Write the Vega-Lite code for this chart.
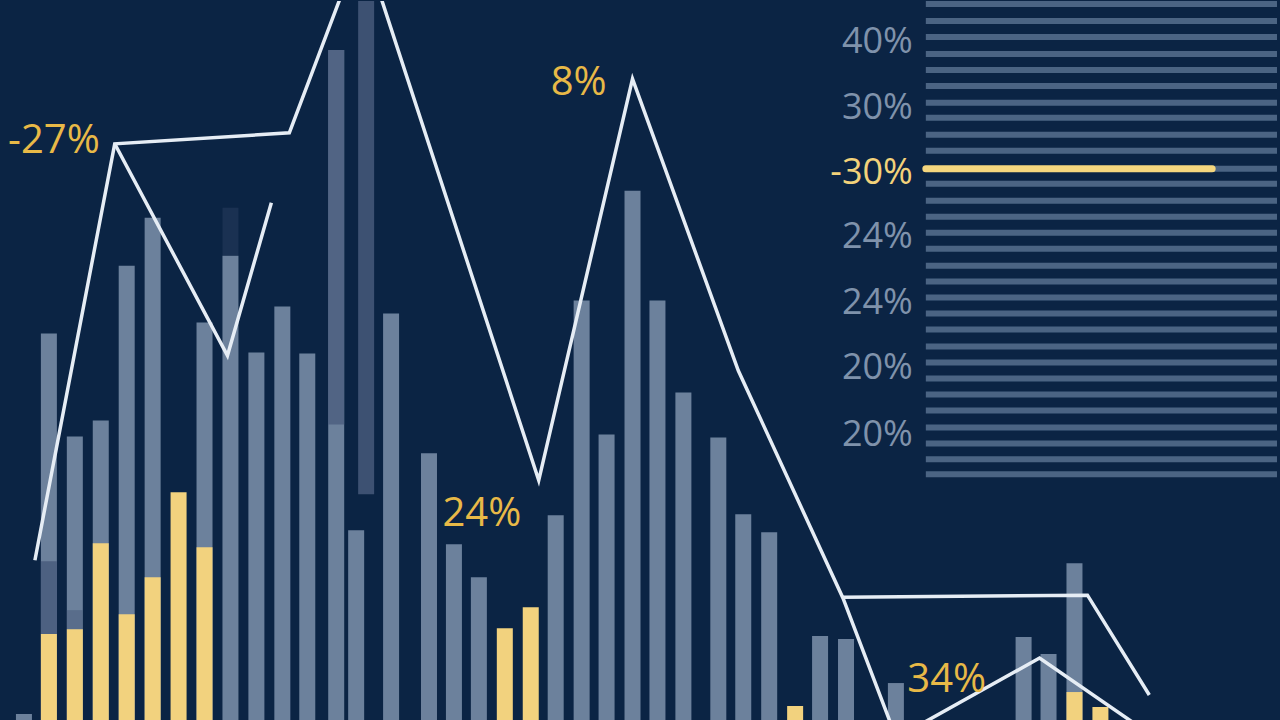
{
  "$schema": "https://vega.github.io/schema/vega-lite/v6.json",
  "autosize": {"type": "fit", "contains": "padding"},
  "width": 1280,
  "height": 720,
  "padding": 0,
  "background": "#0b2444",
  "config": {"view": {"stroke": null}, "axis": {"disable": true}},
  "datasets": {
    "stripes": [
      {"level": 717, "from": 928, "to": 1280}, {"level": 700, "from": 928, "to": 1280}, {"level": 684, "from": 928, "to": 1280},
      {"level": 667, "from": 928, "to": 1280}, {"level": 651, "from": 928, "to": 1280}, {"level": 635, "from": 928, "to": 1280},
      {"level": 618, "from": 928, "to": 1280}, {"level": 603, "from": 928, "to": 1280}, {"level": 586, "from": 928, "to": 1280},
      {"level": 570, "from": 928, "to": 1280}, {"level": 552, "from": 1215, "to": 1280}, {"level": 537, "from": 928, "to": 1280},
      {"level": 520, "from": 928, "to": 1280}, {"level": 504, "from": 928, "to": 1280}, {"level": 488, "from": 928, "to": 1280},
      {"level": 472, "from": 928, "to": 1280}, {"level": 455, "from": 928, "to": 1280}, {"level": 439, "from": 928, "to": 1280},
      {"level": 423, "from": 928, "to": 1280}, {"level": 407, "from": 928, "to": 1280}, {"level": 391, "from": 928, "to": 1280},
      {"level": 374, "from": 928, "to": 1280}, {"level": 358, "from": 928, "to": 1280}, {"level": 342, "from": 928, "to": 1280},
      {"level": 326, "from": 928, "to": 1280}, {"level": 310, "from": 928, "to": 1280}, {"level": 293, "from": 928, "to": 1280},
      {"level": 277, "from": 928, "to": 1280}, {"level": 261, "from": 928, "to": 1280}, {"level": 246, "from": 928, "to": 1280}
    ],
    "highlight": [{"level": 552, "from": 928, "to": 1215}],
    "grey": [
      {"pos": 24, "lo": 0, "hi": 6}, {"pos": 49, "lo": 0, "hi": 387}, {"pos": 75, "lo": 0, "hi": 284},
      {"pos": 101, "lo": 0, "hi": 300}, {"pos": 127, "lo": 0, "hi": 455}, {"pos": 153, "lo": 0, "hi": 503},
      {"pos": 205, "lo": 0, "hi": 398}, {"pos": 231, "lo": 0, "hi": 465}, {"pos": 257, "lo": 0, "hi": 368},
      {"pos": 283, "lo": 0, "hi": 414}, {"pos": 308, "lo": 0, "hi": 367}, {"pos": 337, "lo": 0, "hi": 671},
      {"pos": 357, "lo": 0, "hi": 190}, {"pos": 392, "lo": 0, "hi": 407}, {"pos": 430, "lo": 0, "hi": 267},
      {"pos": 455, "lo": 0, "hi": 176}, {"pos": 480, "lo": 0, "hi": 143}, {"pos": 557, "lo": 0, "hi": 205},
      {"pos": 583, "lo": 0, "hi": 420}, {"pos": 608, "lo": 0, "hi": 286}, {"pos": 634, "lo": 0, "hi": 530},
      {"pos": 659, "lo": 0, "hi": 420}, {"pos": 685, "lo": 0, "hi": 328}, {"pos": 720, "lo": 0, "hi": 283},
      {"pos": 745, "lo": 0, "hi": 206}, {"pos": 771, "lo": 0, "hi": 188}, {"pos": 822, "lo": 0, "hi": 84},
      {"pos": 848, "lo": 0, "hi": 81}, {"pos": 898, "lo": 0, "hi": 37}, {"pos": 1026, "lo": 0, "hi": 83},
      {"pos": 1051, "lo": 0, "hi": 66}, {"pos": 1077, "lo": 0, "hi": 157}
    ],
    "dark": [
      {"pos": 49, "lo": 86, "hi": 159, "shade": 0.8}, {"pos": 75, "lo": 91, "hi": 110, "shade": 0.5},
      {"pos": 337, "lo": 296, "hi": 671, "shade": 0.7}, {"pos": 367, "lo": 226, "hi": 722, "shade": 0.85},
      {"pos": 231, "lo": 465, "hi": 513, "shade": 0.25}
    ],
    "gold": [
      {"pos": 49, "hi": 86}, {"pos": 75, "hi": 91}, {"pos": 101, "hi": 177}, {"pos": 127, "hi": 106},
      {"pos": 153, "hi": 143}, {"pos": 179, "hi": 228}, {"pos": 205, "hi": 173}, {"pos": 506, "hi": 92},
      {"pos": 532, "hi": 113}, {"pos": 797, "hi": 14}, {"pos": 1077, "hi": 28}, {"pos": 1103, "hi": 13}
    ],
    "lines": [
      {"series": "a", "i": 1, "pos": 35, "val": 160}, {"series": "a", "i": 2, "pos": 115, "val": 577},
      {"series": "a", "i": 3, "pos": 290, "val": 588}, {"series": "a", "i": 4, "pos": 363, "val": 781},
      {"series": "a", "i": 5, "pos": 540, "val": 240}, {"series": "a", "i": 6, "pos": 634, "val": 642},
      {"series": "a", "i": 7, "pos": 740, "val": 350}, {"series": "a", "i": 8, "pos": 845, "val": 122},
      {"series": "a", "i": 9, "pos": 893, "val": -4},
      {"series": "b", "i": 1, "pos": 115, "val": 577}, {"series": "b", "i": 2, "pos": 228, "val": 365},
      {"series": "b", "i": 3, "pos": 272, "val": 518},
      {"series": "c", "i": 1, "pos": 845, "val": 123}, {"series": "c", "i": 2, "pos": 1090, "val": 125},
      {"series": "c", "i": 3, "pos": 1152, "val": 25},
      {"series": "d", "i": 1, "pos": 927, "val": -2}, {"series": "d", "i": 2, "pos": 1042, "val": 62},
      {"series": "d", "i": 3, "pos": 1135, "val": -2}
    ],
    "callouts": [
      {"label": "-27%", "pos": 54, "val": 580},
      {"label": "8%", "pos": 580, "val": 638},
      {"label": "24%", "pos": 483, "val": 206},
      {"label": "34%", "pos": 949, "val": 40}
    ],
    "ticks": [
      {"label": "40%", "val": 679, "hot": false},
      {"label": "30%", "val": 613, "hot": false},
      {"label": "-30%", "val": 548, "hot": true},
      {"label": "24%", "val": 484, "hot": false},
      {"label": "24%", "val": 418, "hot": false},
      {"label": "20%", "val": 352, "hot": false},
      {"label": "20%", "val": 285, "hot": false}
    ]
  },
  "layer": [
    {
      "data": {"name": "stripes"},
      "mark": {"type": "rule", "color": "#4b6483", "strokeWidth": 6},
      "encoding": {
        "x": {"field": "from", "type": "quantitative", "scale": {"domain": [0, 1280], "nice": false, "zero": false, "padding": 0}},
        "x2": {"field": "to"},
        "y": {"field": "level", "type": "quantitative", "scale": {"domain": [0, 720], "nice": false, "zero": false, "padding": 0}}
      }
    },
    {
      "data": {"name": "highlight"},
      "mark": {"type": "rule", "color": "#f4d67e", "strokeWidth": 7, "strokeCap": "round"},
      "encoding": {
        "x": {"field": "from", "type": "quantitative"},
        "x2": {"field": "to"},
        "y": {"field": "level", "type": "quantitative"}
      }
    },
    {
      "data": {"name": "grey"},
      "mark": {"type": "bar", "width": 16, "color": "#6c819c", "clip": true},
      "encoding": {
        "x": {"field": "pos", "type": "quantitative"},
        "y": {"field": "hi", "type": "quantitative"},
        "y2": {"field": "lo"}
      }
    },
    {
      "data": {"name": "dark"},
      "mark": {"type": "bar", "width": 16, "color": "#46597a", "clip": true},
      "encoding": {
        "x": {"field": "pos", "type": "quantitative"},
        "y": {"field": "hi", "type": "quantitative"},
        "y2": {"field": "lo"},
        "opacity": {"field": "shade", "type": "quantitative", "scale": null}
      }
    },
    {
      "data": {"name": "gold"},
      "mark": {"type": "bar", "width": 16, "color": "#f2d27e"},
      "encoding": {
        "x": {"field": "pos", "type": "quantitative"},
        "y": {"field": "hi", "type": "quantitative"},
        "y2": {"datum": 0}
      }
    },
    {
      "data": {"name": "lines"},
      "mark": {"type": "line", "color": "#e6edf5", "strokeWidth": 3.5, "clip": true, "strokeJoin": "miter"},
      "encoding": {
        "x": {"field": "pos", "type": "quantitative"},
        "y": {"field": "val", "type": "quantitative"},
        "detail": {"field": "series"},
        "order": {"field": "i"}
      }
    },
    {
      "data": {"name": "callouts"},
      "mark": {"type": "text", "color": "#e8b947", "fontSize": 40, "font": "Open Sans", "fontWeight": 400, "align": "center", "baseline": "middle"},
      "encoding": {
        "x": {"field": "pos", "type": "quantitative"},
        "y": {"field": "val", "type": "quantitative"},
        "text": {"field": "label"}
      }
    },
    {
      "data": {"name": "ticks"},
      "mark": {"type": "text", "fontSize": 36, "font": "Open Sans", "align": "right", "baseline": "middle"},
      "encoding": {
        "x": {"datum": 915},
        "y": {"field": "val", "type": "quantitative"},
        "text": {"field": "label"},
        "color": {"field": "hot", "type": "nominal", "scale": {"domain": [false, true], "range": ["#7f92ab", "#f3d27a"]}, "legend": null},
        "fontWeight": {"field": "hot", "type": "nominal", "scale": {"domain": [false, true], "range": [700, 800]}, "legend": null}
      }
    }
  ]
}
